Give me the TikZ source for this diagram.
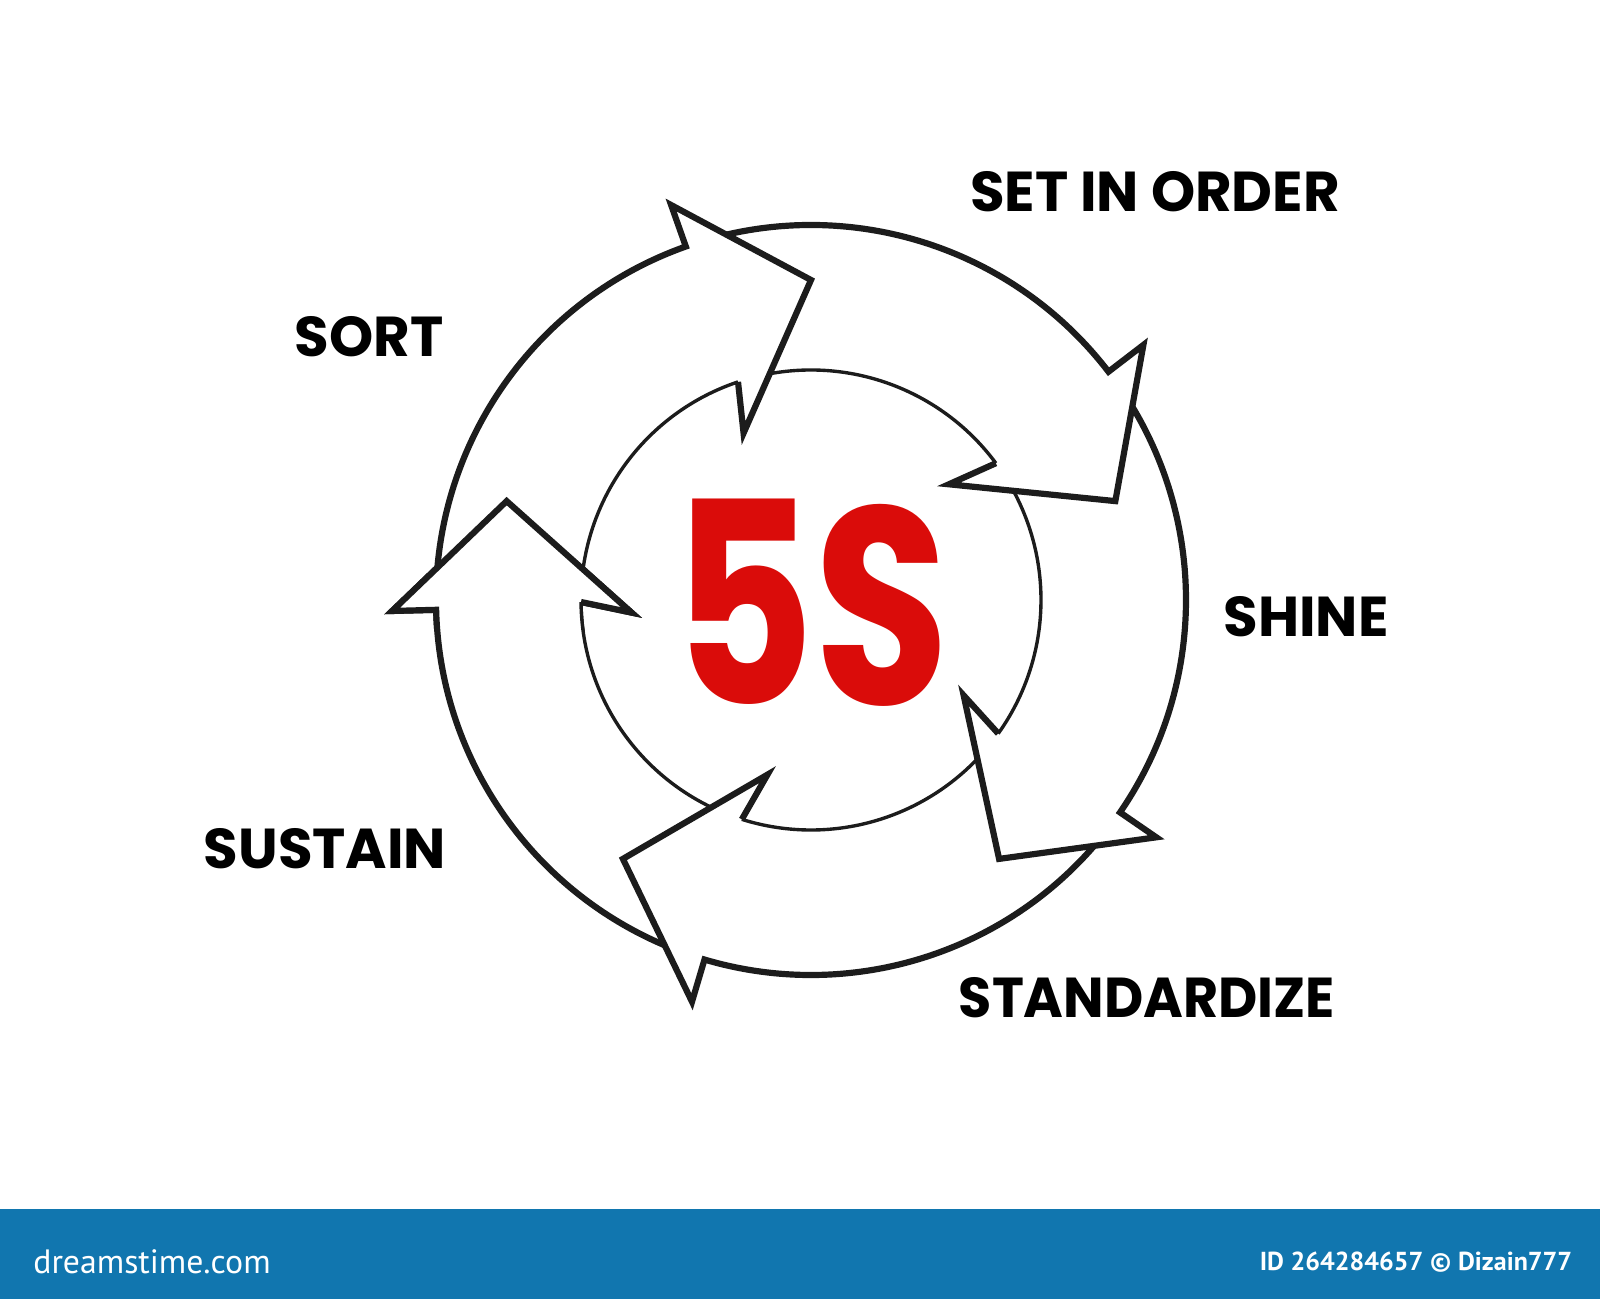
\documentclass[tikz,border=0pt]{standalone}
\usepackage{fontspec}
\newfontfamily\labelfont{Poppins}
\newfontfamily\barfont{PT Sans}
\definecolor{fivered}{RGB}{218,12,10}
\definecolor{barblue}{RGB}{17,118,175}
\definecolor{inkline}{RGB}{28,28,28}
\tikzset{
  ringline/.style={line width=4.4pt, line join=miter, inkline},
  innerline/.style={line width=2.4pt, inkline},
  stage/.style={font=\labelfont\bfseries\fontsize{40}{48}\selectfont, text=black},
  bartext/.style={text=white, font=\barfont\fontsize{16}{18}\selectfont},
}
\newcommand{\cyclearrow}[1]{%
  \fill[white] ({#1+88}:375) arc[start angle={#1+88}, end angle={#1+19.5}, radius=375]
    -- ({#1+19.5}:419) -- (#1:320) -- ({#1+22}:180) -- ({#1+18.5}:230)
    arc[start angle={#1+18.5}, end angle={#1+88}, radius=230] -- cycle;
  \draw[ringline] ({#1+88}:375) arc[start angle={#1+88}, end angle={#1+19.5}, radius=375]
    -- ({#1+19.5}:419) -- (#1:320) -- ({#1+22}:180) -- ({#1+18.5}:230);
  \draw[innerline] ({#1+18.5}:230) arc[start angle={#1+18.5}, end angle={#1+88}, radius=230];
}
\begin{document}
\begin{tikzpicture}[x=0.25mm, y=0.25mm]
    \useasboundingbox (-811,-699) rectangle (789,600);

    \foreach \t in {-198,-126,-54,18,90} {
        \cyclearrow{\t}
    }
    \begin{scope}
        \clip (-520,-30) rectangle (-100,260);
        \cyclearrow{-198}
    \end{scope}

    \node[text=fivered, font=\labelfont\bfseries\fontsize{200}{200}\selectfont] (fives) at (0,-3) {\scalebox{0.78}[1]{5S}};

    \node[stage] (setinorder)  at (344,408)  {SET IN ORDER};
    \node[stage] (sort)        at (-442,263) {SORT};
    \node[stage] (shine)       at (495,-17)  {SHINE};
    \node[stage] (sustain)     at (-486,-249) {SUSTAIN};
    \node[stage] (standardize) at (336,-398) {\scalebox{0.96}[1]{STANDARDIZE}};

    \fill[barblue] (-811,-609) rectangle (789,-699);
    \node[bartext, font=\barfont\fontsize{24}{28}\selectfont] (site) at (-659,-662) {dreamstime.com};
    \node[bartext, font=\barfont\bfseries\fontsize{18.5}{22}\selectfont] (imageid) at (605,-662) {ID 264284657 © Dizain777};
\end{tikzpicture}
\end{document}
